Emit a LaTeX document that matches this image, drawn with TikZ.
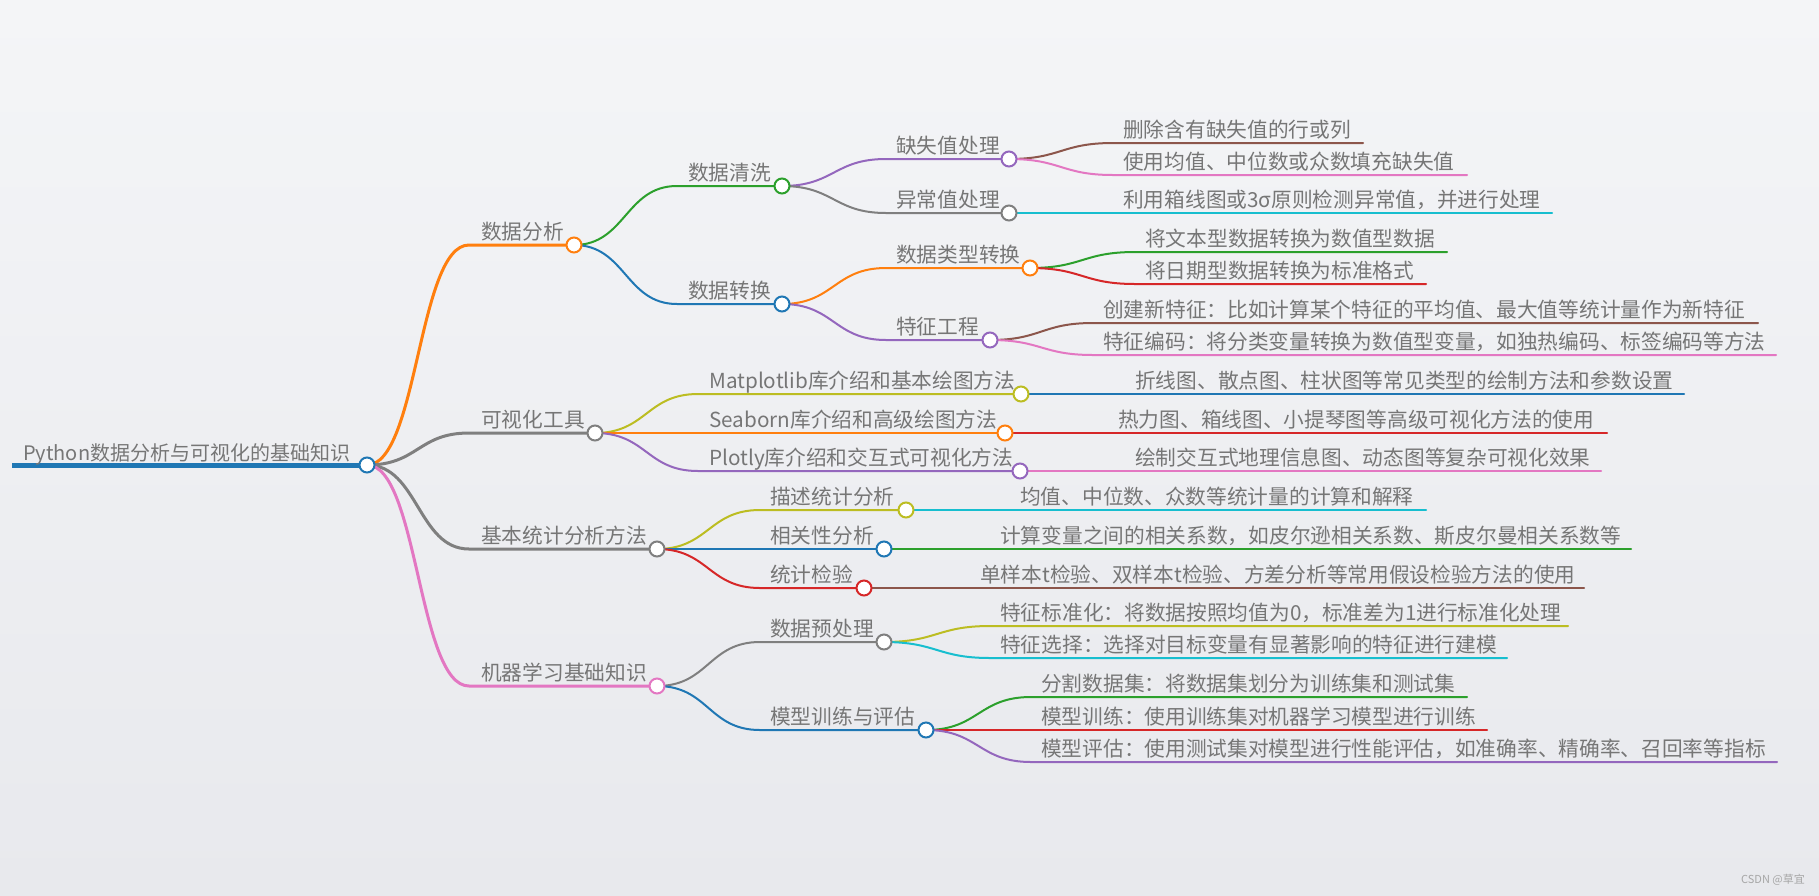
\documentclass[tikz,border=0pt]{standalone}
\usepackage{fontspec}
\setmainfont{Noto Sans CJK SC}
\usetikzlibrary{calc}
\definecolor{tblue}{HTML}{1F77B4}
\definecolor{torange}{HTML}{FF7F0E}
\definecolor{tgreen}{HTML}{2CA02C}
\definecolor{tred}{HTML}{D62728}
\definecolor{tpurple}{HTML}{9467BD}
\definecolor{tbrown}{HTML}{8C564B}
\definecolor{tpink}{HTML}{E377C2}
\definecolor{tgray}{HTML}{7F7F7F}
\definecolor{tolive}{HTML}{BCBD22}
\definecolor{tcyan}{HTML}{17BECF}
\definecolor{txtgray}{HTML}{767676}
\definecolor{bgtop}{HTML}{F4F5F7}
\definecolor{bgbot}{HTML}{E8E9ED}
\newcommand\mylink[5][2pt]{\draw[line width=#1,line cap=round,#2] let \p1=(#3), \p2=(#4) in (#3) .. controls ({0.5*\x1+0.5*\x2},\y1) and ({0.5*\x1+0.5*\x2},\y2) .. (#4) -- (#5);}
\begin{document}
\begin{tikzpicture}[x=1pt,y=-1pt,
  dot/.style={circle, draw=#1, fill=white, line width=2pt, minimum size=15pt, inner sep=0pt},
  lbl/.style={anchor=base west, inner sep=0pt, text=txtgray, font=\fontsize{20.7pt}{24pt}\selectfont},
  wmark/.style={anchor=base east, inner sep=0pt, text=gray!70, font=\fontsize{11pt}{13pt}\selectfont}]
\useasboundingbox (0,0) rectangle (1819,895);
\shade[top color=bgtop, bottom color=bgbot] (0,0) rectangle (1819,895);
% ---------- coordinates ----------
\coordinate (R) at (367,465);
\coordinate (R0) at (12,465);
\coordinate (A) at (574,245);  \coordinate (As) at (469,245);
\coordinate (B) at (595,433);  \coordinate (Bs) at (469,433);
\coordinate (C) at (657,549);  \coordinate (Cs) at (469,549);
\coordinate (D) at (657,686);  \coordinate (Ds) at (469,686);
\coordinate (A1) at (782,186); \coordinate (A1s) at (677,186);
\coordinate (A2) at (782,304); \coordinate (A2s) at (677,304);
\coordinate (B1) at (1021,394); \coordinate (B1s) at (698,394);
\coordinate (B2) at (1005,433); \coordinate (B2s) at (698,433);
\coordinate (B3) at (1020,471); \coordinate (B3s) at (698,471);
\coordinate (C1) at (906,510); \coordinate (C1s) at (760,510);
\coordinate (C2) at (884,549); \coordinate (C2s) at (760,549);
\coordinate (C3) at (864,588); \coordinate (C3s) at (760,588);
\coordinate (D1) at (884,642); \coordinate (D1s) at (760,642);
\coordinate (D2) at (926,730); \coordinate (D2s) at (760,730);
\coordinate (A1a) at (1009,159); \coordinate (A1as) at (886,159);
\coordinate (A1b) at (1009,213); \coordinate (A1bs) at (886,213);
\coordinate (A2a) at (1030,268); \coordinate (A2as) at (886,268);
\coordinate (A2b) at (990,340);  \coordinate (A2bs) at (886,340);
% leaves: start / end
\coordinate (L1s) at (1113,143); \coordinate (L1e) at (1363,143);
\coordinate (L2s) at (1113,175); \coordinate (L2e) at (1467,175);
\coordinate (L3s) at (1113,213); \coordinate (L3e) at (1552,213);
\coordinate (L4s) at (1135,252); \coordinate (L4e) at (1447,252);
\coordinate (L5s) at (1135,284); \coordinate (L5e) at (1426,284);
\coordinate (L6s) at (1093,323); \coordinate (L6e) at (1758,323);
\coordinate (L7s) at (1093,355); \coordinate (L7e) at (1776,355);
\coordinate (L8s) at (1125,394); \coordinate (L8e) at (1684,394);
\coordinate (L9s) at (1108,433); \coordinate (L9e) at (1607,433);
\coordinate (L10s) at (1125,471); \coordinate (L10e) at (1601,471);
\coordinate (L11s) at (1010,510); \coordinate (L11e) at (1426,510);
\coordinate (L12s) at (990,549); \coordinate (L12e) at (1631,549);
\coordinate (L13s) at (970,588); \coordinate (L13e) at (1584,588);
\coordinate (L14s) at (990,626); \coordinate (L14e) at (1568,626);
\coordinate (L15s) at (990,658); \coordinate (L15e) at (1507,658);
\coordinate (L16s) at (1031,697); \coordinate (L16e) at (1467,697);
\coordinate (L17s) at (1031,730); \coordinate (L17e) at (1487,730);
\coordinate (L18s) at (1031,762); \coordinate (L18e) at (1777,762);
% ---------- connectors ----------
\draw[line width=5pt, tblue] (R0) -- (R);
\mylink[3pt]{torange}{R}{As}{A}
\mylink[3pt]{tgray}{R}{Bs}{B}
\mylink[3pt]{tgray}{R}{Cs}{C}
\mylink[3pt]{tpink}{R}{Ds}{D}
\mylink{tgreen}{A}{A1s}{A1}
\mylink{tblue}{A}{A2s}{A2}
\mylink{tolive}{B}{B1s}{B1}
\mylink{torange}{B}{B2s}{B2}
\mylink{tpurple}{B}{B3s}{B3}
\mylink{tolive}{C}{C1s}{C1}
\mylink{tblue}{C}{C2s}{C2}
\mylink{tred}{C}{C3s}{C3}
\mylink{tgray}{D}{D1s}{D1}
\mylink{tblue}{D}{D2s}{D2}
\mylink{tpurple}{A1}{A1as}{A1a}
\mylink{tgray}{A1}{A1bs}{A1b}
\mylink{torange}{A2}{A2as}{A2a}
\mylink{tpurple}{A2}{A2bs}{A2b}
\mylink{tbrown}{A1a}{L1s}{L1e}
\mylink{tpink}{A1a}{L2s}{L2e}
\mylink{tcyan}{A1b}{L3s}{L3e}
\mylink{tgreen}{A2a}{L4s}{L4e}
\mylink{tred}{A2a}{L5s}{L5e}
\mylink{tbrown}{A2b}{L6s}{L6e}
\mylink{tpink}{A2b}{L7s}{L7e}
\mylink{tblue}{B1}{L8s}{L8e}
\mylink{tred}{B2}{L9s}{L9e}
\mylink{tpink}{B3}{L10s}{L10e}
\mylink{tcyan}{C1}{L11s}{L11e}
\mylink{tgreen}{C2}{L12s}{L12e}
\mylink{tbrown}{C3}{L13s}{L13e}
\mylink{tolive}{D1}{L14s}{L14e}
\mylink{tcyan}{D1}{L15s}{L15e}
\mylink{tgreen}{D2}{L16s}{L16e}
\mylink{tred}{D2}{L17s}{L17e}
\mylink{tpurple}{D2}{L18s}{L18e}
% ---------- circles ----------
\node[dot=tblue] (Rc) at (R) {};
\node[dot=torange] (Ac) at (A) {};
\node[dot=tgray] (Bc) at (B) {};
\node[dot=tgray] (Cc) at (C) {};
\node[dot=tpink] (Dc) at (D) {};
\node[dot=tgreen] (A1c) at (A1) {};
\node[dot=tblue] (A2c) at (A2) {};
\node[dot=tolive] (B1c) at (B1) {};
\node[dot=torange] (B2c) at (B2) {};
\node[dot=tpurple] (B3c) at (B3) {};
\node[dot=tolive] (C1c) at (C1) {};
\node[dot=tblue] (C2c) at (C2) {};
\node[dot=tred] (C3c) at (C3) {};
\node[dot=tgray] (D1c) at (D1) {};
\node[dot=tblue] (D2c) at (D2) {};
\node[dot=tpurple] (A1ac) at (A1a) {};
\node[dot=tgray] (A1bc) at (A1b) {};
\node[dot=torange] (A2ac) at (A2a) {};
\node[dot=tpurple] (A2bc) at (A2b) {};
% ---------- labels ----------
\node[lbl, font=\fontsize{20pt}{24pt}\selectfont] (Rt) at (23,460) {Python数据分析与可视化的基础知识};
\node[lbl] (At) at (481,239) {数据分析};
\node[lbl] (Bt) at (481,427) {可视化工具};
\node[lbl] (Ct) at (481,543) {基本统计分析方法};
\node[lbl] (Dt) at (481,680) {机器学习基础知识};
\node[lbl] (A1t) at (688,180) {数据清洗};
\node[lbl] (A2t) at (688,298) {数据转换};
\node[lbl] (B1t) at (709,388) {Matplotlib库介绍和基本绘图方法};
\node[lbl] (B2t) at (709,427) {Seaborn库介绍和高级绘图方法};
\node[lbl] (B3t) at (709,465) {Plotly库介绍和交互式可视化方法};
\node[lbl] (C1t) at (770,504) {描述统计分析};
\node[lbl] (C2t) at (770,543) {相关性分析};
\node[lbl] (C3t) at (770,582) {统计检验};
\node[lbl] (D1t) at (770,636) {数据预处理};
\node[lbl] (D2t) at (770,724) {模型训练与评估};
\node[lbl] (A1at) at (896,153) {缺失值处理};
\node[lbl] (A1bt) at (896,207) {异常值处理};
\node[lbl] (A2at) at (896,262) {数据类型转换};
\node[lbl] (A2bt) at (896,334) {特征工程};
\node[lbl] (L1) at (1123,137) {删除含有缺失值的行或列};
\node[lbl] (L2) at (1123,169) {使用均值、中位数或众数填充缺失值};
\node[lbl] (L3) at (1123,207) {利用箱线图或3σ原则检测异常值，并进行处理};
\node[lbl] (L4) at (1145,246) {将文本型数据转换为数值型数据};
\node[lbl] (L5) at (1145,278) {将日期型数据转换为标准格式};
\node[lbl] (L6) at (1103,317) {创建新特征：比如计算某个特征的平均值、最大值等统计量作为新特征};
\node[lbl] (L7) at (1103,349) {特征编码：将分类变量转换为数值型变量，如独热编码、标签编码等方法};
\node[lbl] (L8) at (1135,388) {折线图、散点图、柱状图等常见类型的绘制方法和参数设置};
\node[lbl] (L9) at (1118,427) {热力图、箱线图、小提琴图等高级可视化方法的使用};
\node[lbl] (L10) at (1135,465) {绘制交互式地理信息图、动态图等复杂可视化效果};
\node[lbl] (L11) at (1020,504) {均值、中位数、众数等统计量的计算和解释};
\node[lbl] (L12) at (1000,543) {计算变量之间的相关系数，如皮尔逊相关系数、斯皮尔曼相关系数等};
\node[lbl] (L13) at (980,582) {单样本t检验、双样本t检验、方差分析等常用假设检验方法的使用};
\node[lbl] (L14) at (1000,620) {特征标准化：将数据按照均值为0，标准差为1进行标准化处理};
\node[lbl] (L15) at (1000,652) {特征选择：选择对目标变量有显著影响的特征进行建模};
\node[lbl] (L16) at (1041,691) {分割数据集：将数据集划分为训练集和测试集};
\node[lbl] (L17) at (1041,724) {模型训练：使用训练集对机器学习模型进行训练};
\node[lbl] (L18) at (1041,756) {模型评估：使用测试集对模型进行性能评估，如准确率、精确率、召回率等指标};
\node[wmark] (wm) at (1805,883) {CSDN @草宜};
\end{tikzpicture}
\end{document}
